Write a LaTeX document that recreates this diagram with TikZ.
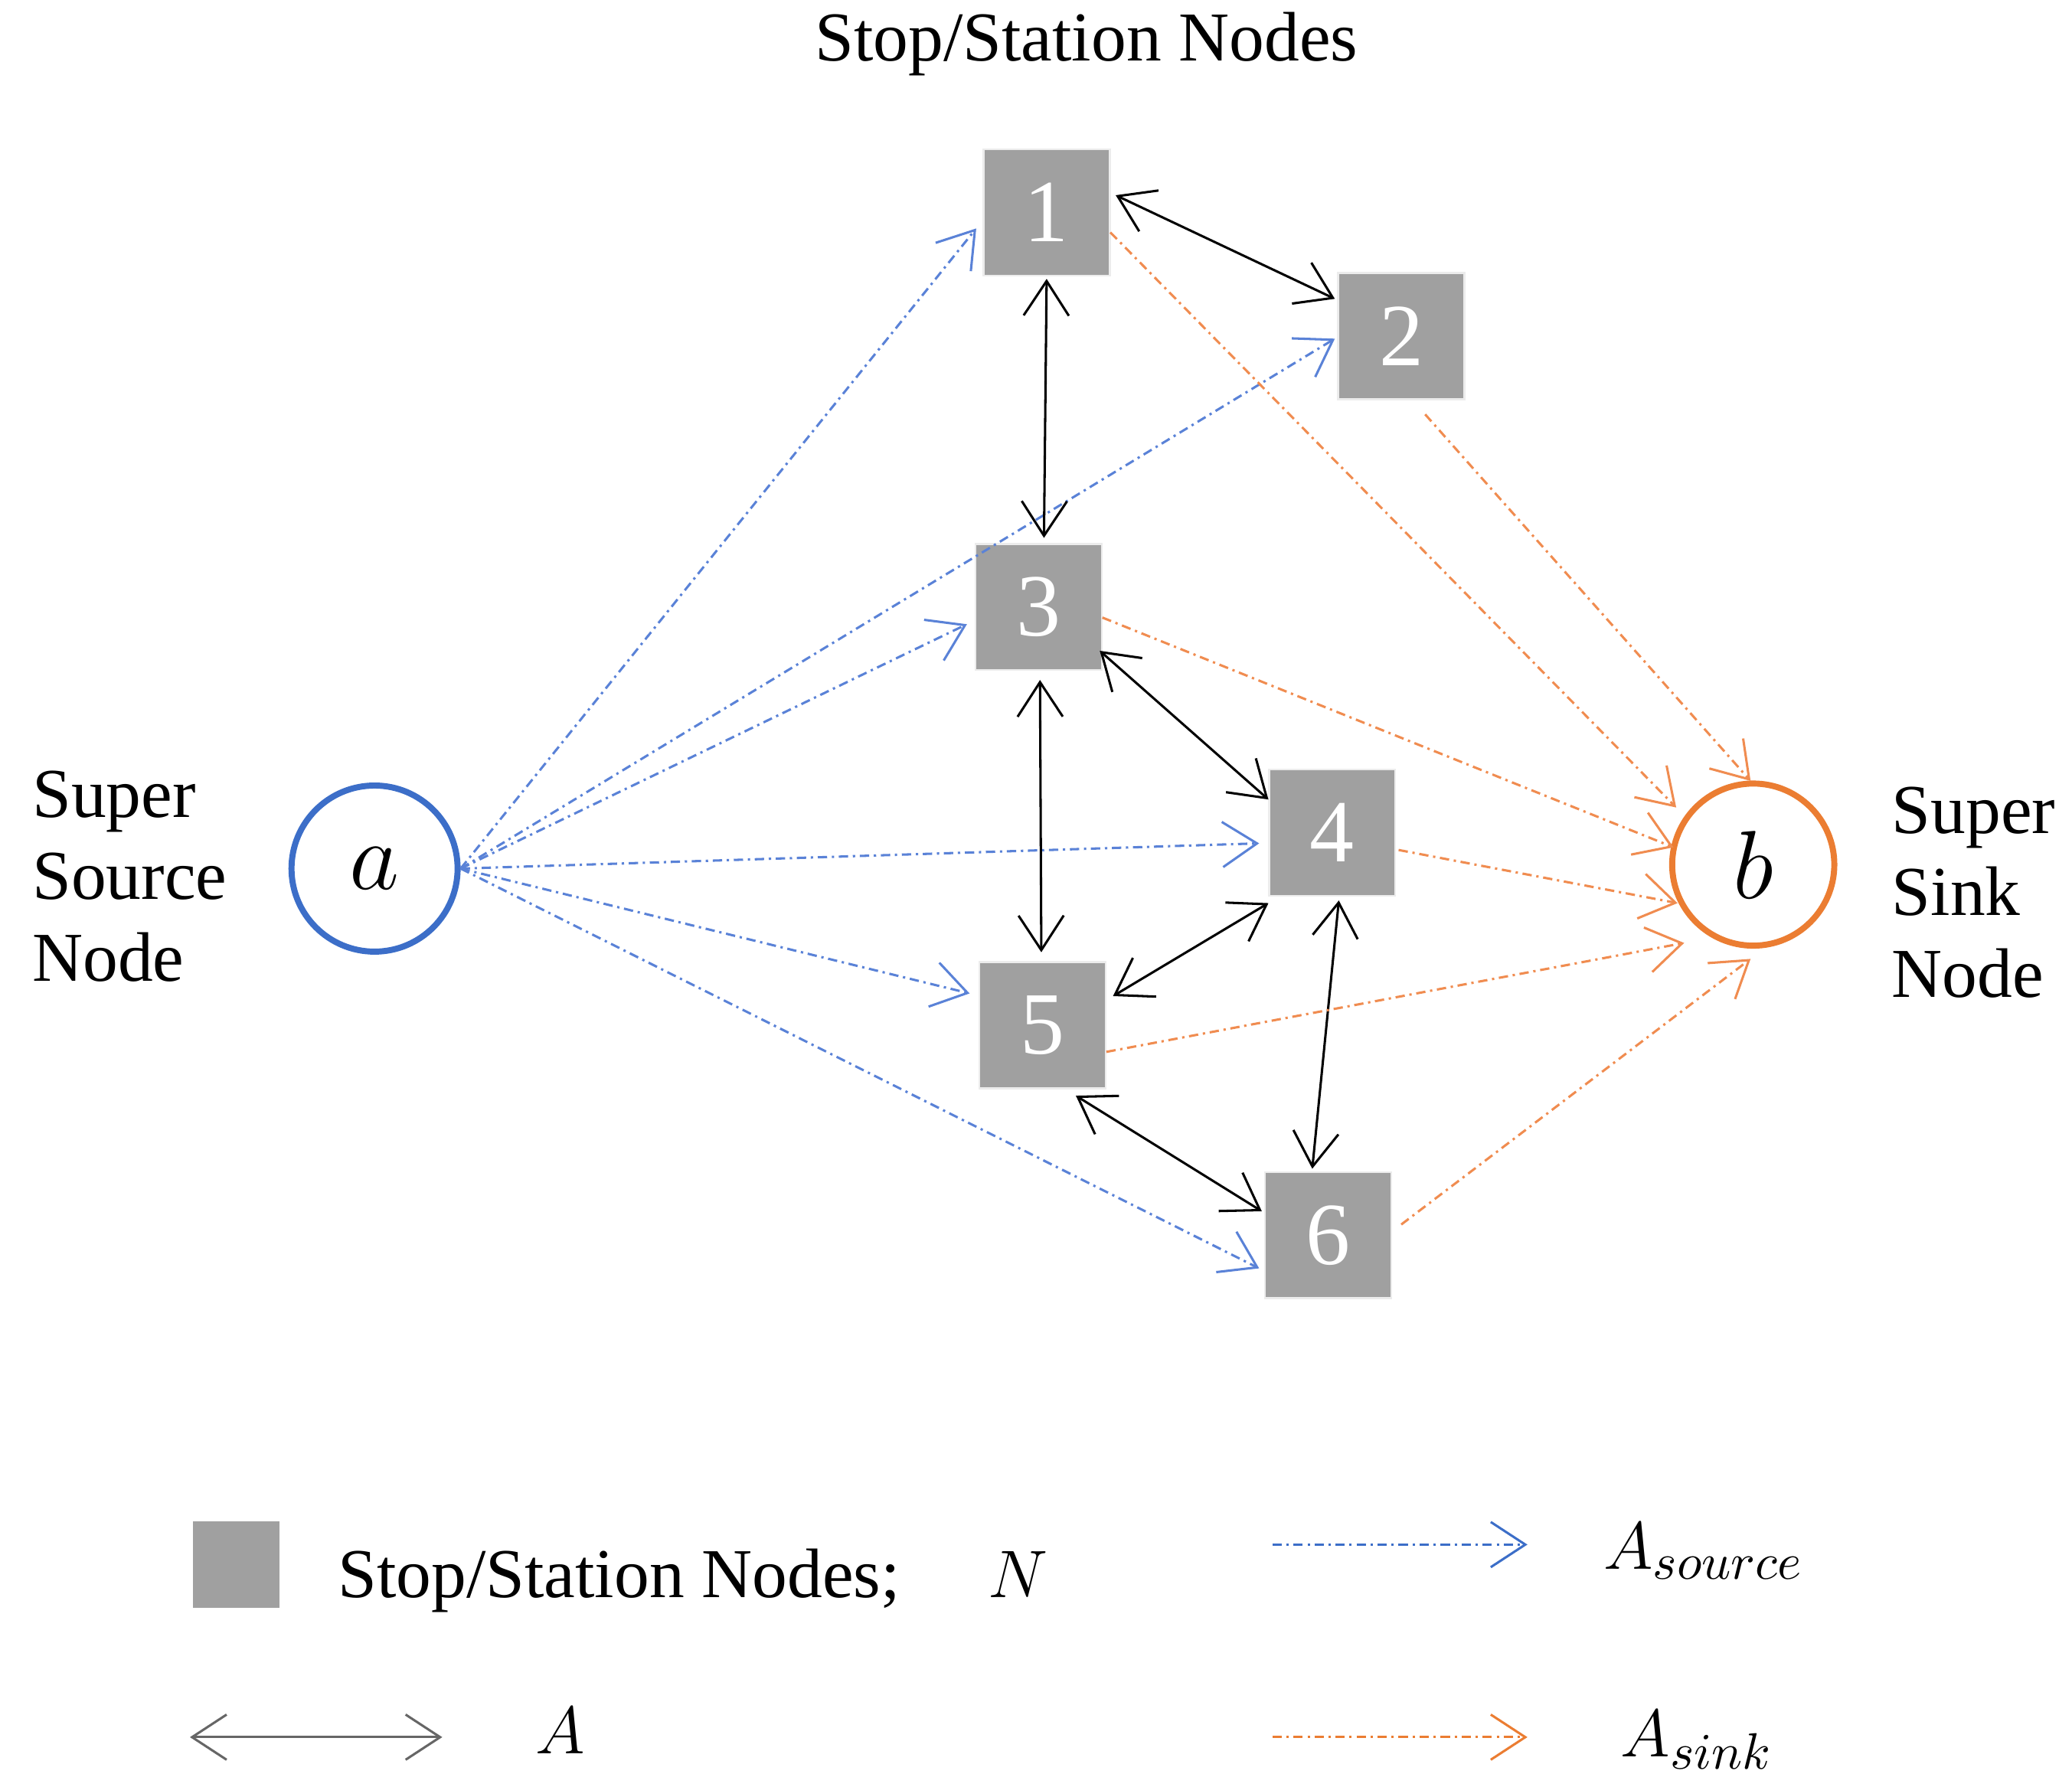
\documentclass[tikz,border=0pt]{standalone}
\usepackage{fontspec}
\setmainfont{Liberation Serif}
\usetikzlibrary{arrows.meta}
\definecolor{sq}{RGB}{160,160,160}
\definecolor{bl}{RGB}{90,130,215}
\definecolor{srcc}{RGB}{60,110,200}
\definecolor{orr}{RGB}{240,140,80}
\definecolor{snk}{RGB}{235,125,50}
\begin{document}
\begin{tikzpicture}[x=0.01cm,y=-0.01cm,
  st/.style={fill=sq,draw=white!85!gray,minimum size=0.95cm,inner sep=0,text=white,font=\fontsize{19}{19}\selectfont},
  src/.style={draw=bl,line width=0.5pt,dash pattern=on 2pt off 1pt on 0.5pt off 1pt,-{Straight Barb[length=2.6mm,width=3.4mm]}},
  sink/.style={draw=orr,line width=0.5pt,dash pattern=on 2pt off 1pt on 0.5pt off 1pt,-{Straight Barb[length=2.6mm,width=3.4mm]}},
  bi/.style={draw=black,line width=0.5pt,{Straight Barb[length=2.6mm,width=3.4mm]}-{Straight Barb[length=2.6mm,width=3.4mm]}},
  lab/.style={font=\fontsize{15}{17.5}\selectfont,align=left}]
\useasboundingbox (0,0) rectangle (1560,1345);
\node[st] (n1) at (788,160) {1};
\node[st] (n2) at (1055,253) {2};
\node[st] (n3) at (782,457) {3};
\node[st] (n4) at (1003,627) {4};
\node[st] (n5) at (785,772) {5};
\node[st] (n6) at (1000,930) {6};
\node[circle,draw=srcc,line width=1.3pt,minimum size=1.25cm,font=\fontsize{22}{22}\selectfont] (a) at (282,654) {$a$};
\node[circle,draw=snk,line width=1.3pt,minimum size=1.22cm,font=\fontsize{22}{22}\selectfont] (b) at (1320,651) {$b$};
\node[lab] (t1) at (818,33) {Stop/Station Nodes};
\node[lab,anchor=west] (t2) at (12,660) {Super\\Source\\Node};
\node[lab,anchor=west] (t3) at (1412,672) {Super\\Sink\\Node};
% source arcs
\draw[src] (a.east) -- (735,172);
\draw[src] (a.east) -- (1005,255);
\draw[src] (a.east) -- (728,470);
\draw[src] (a.east) -- (948,635);
\draw[src] (a.east) -- (730,748);
\draw[src] (a.east) -- (948,955);
% bidirectional
\draw[bi] (840,147) -- (1005,225);
\draw[bi] (788,210) -- (786,405);
\draw[bi] (828,490) -- (955,602);
\draw[bi] (783,512) -- (784,717);
\draw[bi] (955,680) -- (838,750);
\draw[bi] (1008,678) -- (988,880);
\draw[bi] (810,825) -- (950,912);
% sink arcs
\draw[sink] (836,175) -- (1262,608);
\draw[sink] (1073,312) -- (1318,588);
\draw[sink] (830,465) -- (1260,638);
\draw[sink] (1053,640) -- (1263,680);
\draw[sink] (833,792) -- (1268,710);
\draw[sink] (1055,922) -- (1318,722);
% legend
\node[fill=sq,minimum size=0.65cm,inner sep=0] (lsq) at (178,1178) {};
\node[lab,anchor=west] (l1) at (242,1190) {Stop/Station Nodes;\quad\ $N$};
\coordinate (s1) at (958,1163); \coordinate (s2) at (1150,1163);
\draw[src,draw=srcc] (s1) -- (s2);
\node[lab,anchor=west] (l2) at (1195,1168) {$A_{source}$};
\coordinate (g1) at (143,1308); \coordinate (g2) at (333,1308);
\draw[bi,draw=gray!80!black] (g1) -- (g2);
\node[lab] (l3) at (422,1303) {$A$};
\coordinate (o1) at (958,1308); \coordinate (o2) at (1150,1308);
\draw[sink,draw=snk] (o1) -- (o2);
\node[lab,anchor=west] (l4) at (1208,1310) {$A_{sink}$};
\end{tikzpicture}
\end{document}
